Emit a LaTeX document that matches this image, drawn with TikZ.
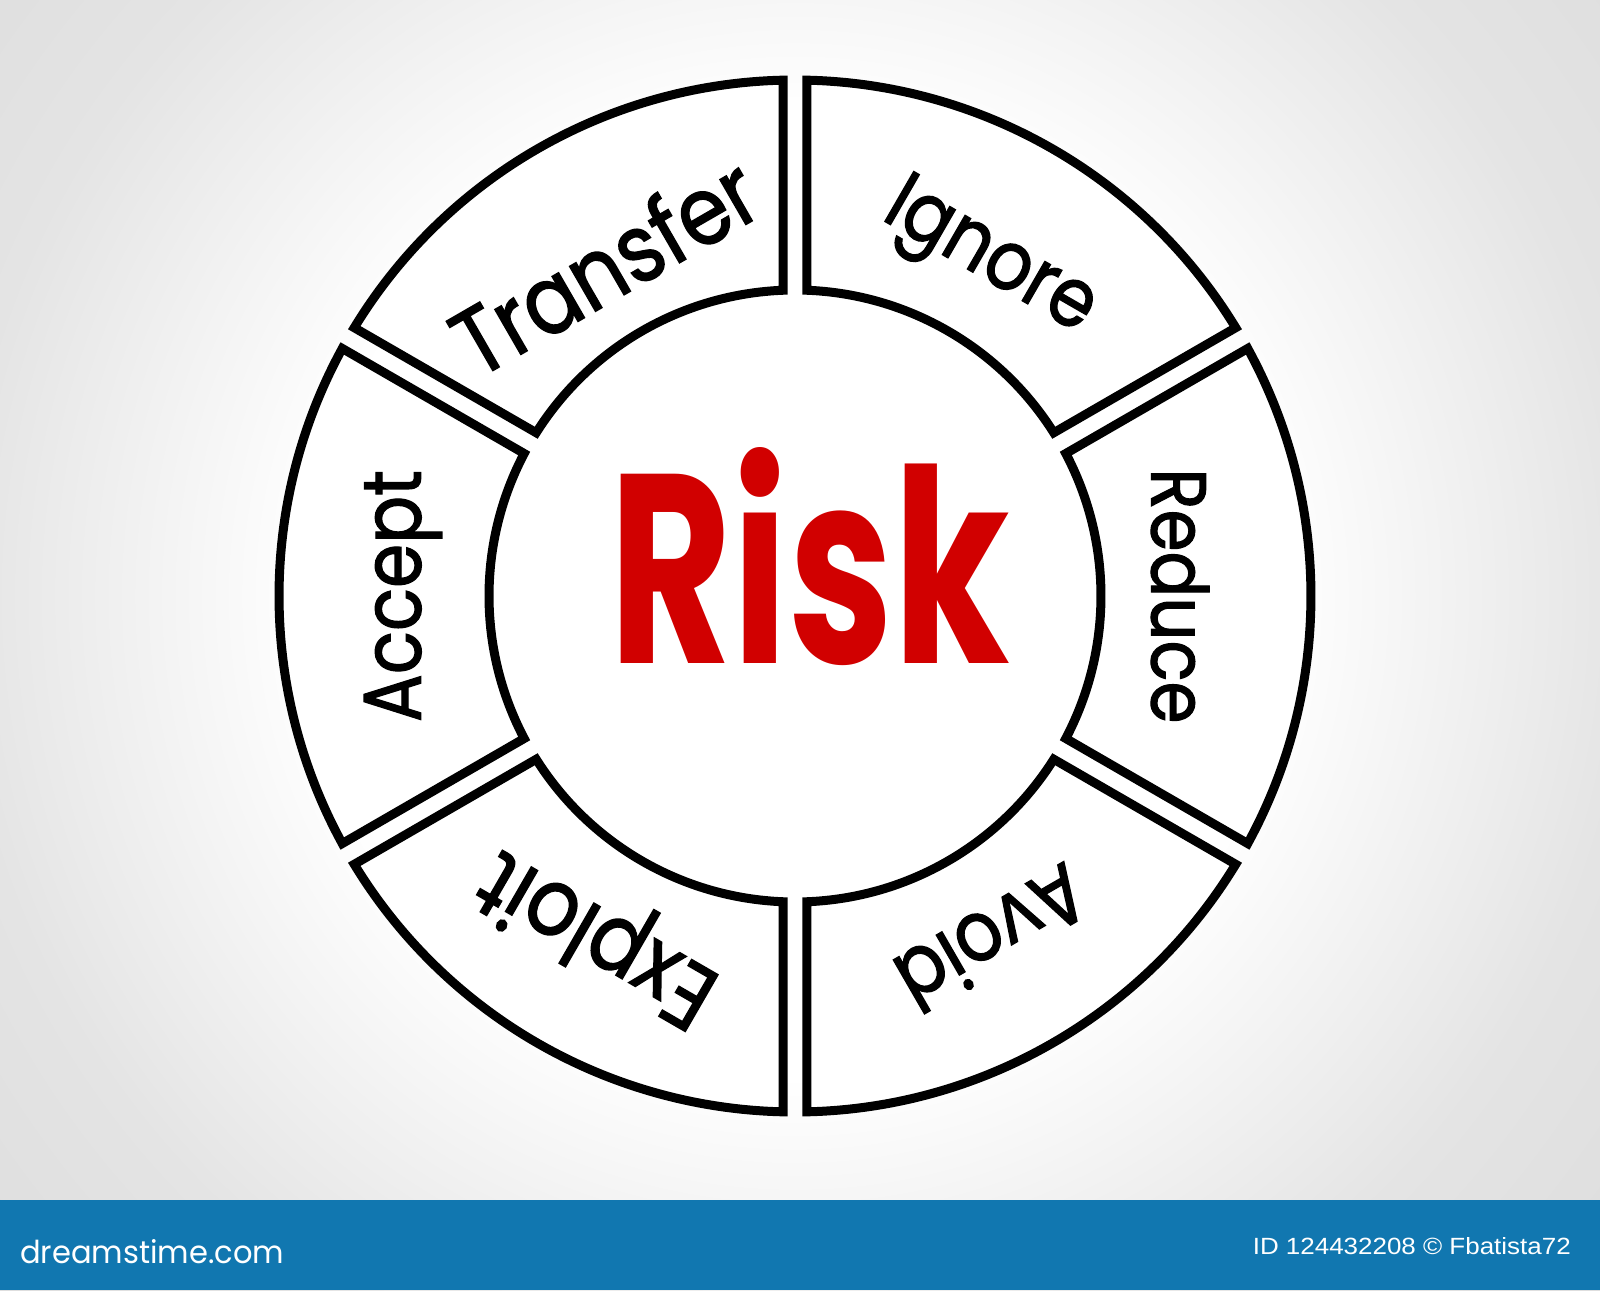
\documentclass[tikz,border=0pt]{standalone}
\usepackage{fontspec}
\newfontfamily\handfont[FakeBold=1.6]{Poppins}
\newfontfamily\riskfont{Poppins}
\newfontfamily\sitefont{Poppins}
\newfontfamily\idfont{Liberation Sans}
\definecolor{riskred}{HTML}{D10000}
\definecolor{barblue}{HTML}{1177B0}
\definecolor{bgmid}{HTML}{E4E4E4}
\definecolor{bgout}{HTML}{D4D4D4}
\definecolor{bgfar}{HTML}{CCCCCC}
\pgfdeclareradialshading{bgshade}{\pgfpoint{0bp}{0bp}}{color(0bp)=(white); color(10.9bp)=(white); color(19.1bp)=(bgmid); color(31.8bp)=(bgout); color(50bp)=(bgfar)}
\newcommand\seglabel[2]{\resizebox{#1pt}{!}{\scalebox{1}[1.15]{\fontsize{60}{60}\handfont #2}}}
\begin{document}
\begin{tikzpicture}[x=1pt,y=1pt,
  segline/.style={draw=black, line width=9pt, fill=white, line join=miter},
  lab/.style={inner sep=0pt, anchor=center, text=black}]
\useasboundingbox (-795,-694) rectangle (805,596);
% background
\begin{scope}
\clip (-795,-694) rectangle (805,596);
\shade[shading=bgshade] (0,0) circle (1100pt);
\end{scope}
% bottom bar
\fill[barblue] (-795,-694) rectangle (805,-604);
% ring segments
\foreach \a/\b in {90/150, 30/90, -30/30, -90/-30, -150/-90, 150/210} {
  \draw[segline] (\a+1.3326:516pt) arc[start angle=\a+1.3326, end angle=\b-1.3326, radius=516pt]
    -- (\b-2.2475:306pt) arc[start angle=\b-2.2475, end angle=\a+2.2475, radius=306pt] -- cycle;
}
% labels
\node[lab, rotate=30]   (transfer) at (120:382pt)  {\seglabel{335}{Transfer}};
\node[lab, rotate=-30]  (ignore)   at (60:387pt)   {\seglabel{230}{Ignore}};
\node[lab, rotate=-90]  (reduce)   at (0:385pt)    {\seglabel{255}{Reduce}};
\node[lab, rotate=-150] (avoid)    at (-60:396pt)  {\seglabel{205}{Avoid}};
\node[lab, rotate=150]  (exploit)  at (-120:390pt) {\seglabel{258}{Exploit}};
\node[lab, rotate=90]   (accept)   at (180:392pt)  {\seglabel{252}{Accept}};
% centre
\node[inner sep=0pt, anchor=base, text=riskred] (risk) at (15,-67)
  {\resizebox{400pt}{216pt}{\fontsize{100}{100}\riskfont\bfseries Risk}};
% footer texts
\node[inner sep=0pt, anchor=base west, text=white] (site) at (-775,-667)
  {\resizebox{264pt}{24pt}{\fontsize{33}{33}\sitefont dreamstime.com}};
\node[inner sep=0pt, anchor=base east, text=white] (credit) at (776,-658)
  {\resizebox{318pt}{17pt}{\fontsize{24}{24}\idfont ID 124432208 © Fbatista72}};
\end{tikzpicture}
\end{document}
